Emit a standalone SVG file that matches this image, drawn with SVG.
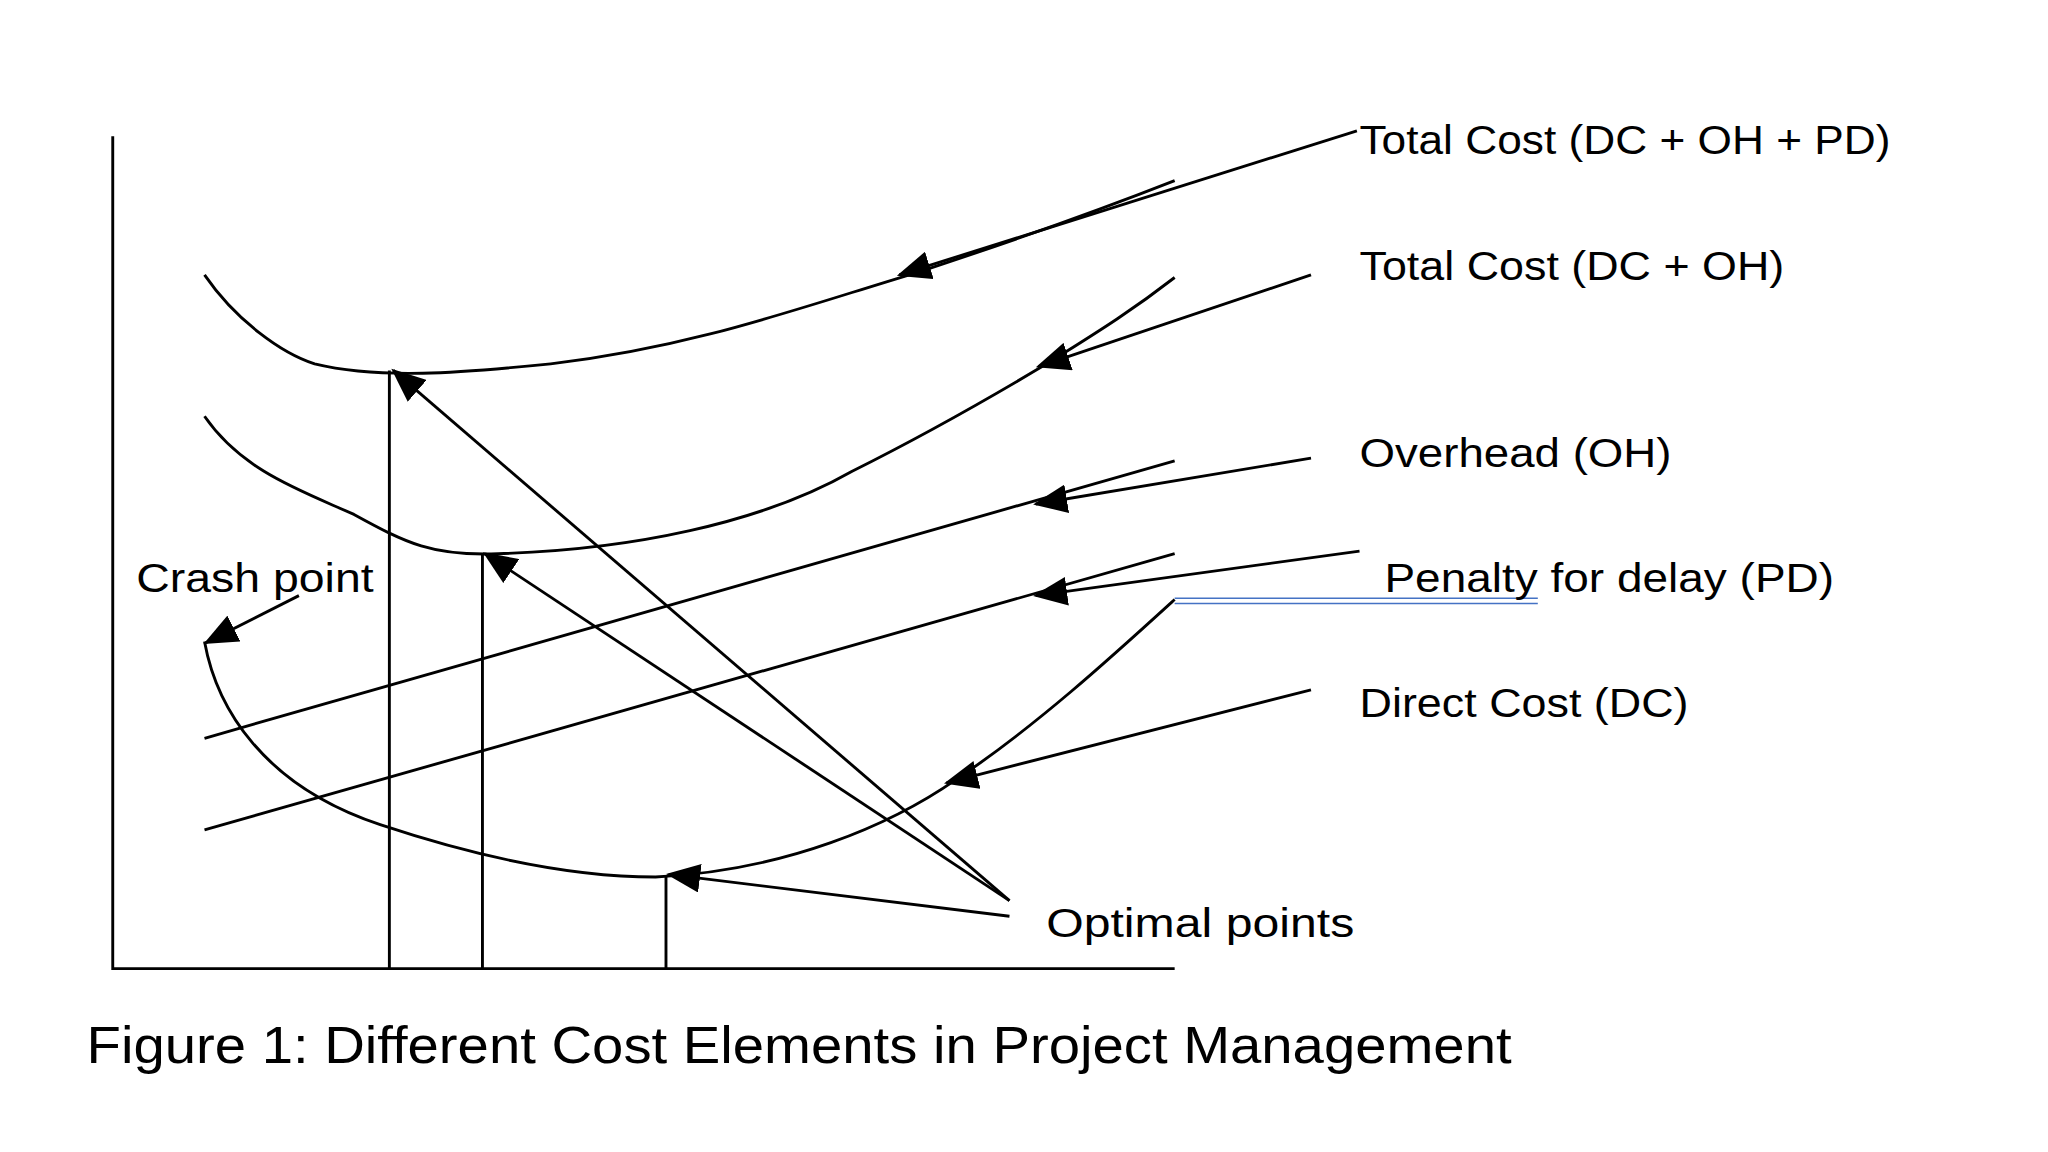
<svg xmlns="http://www.w3.org/2000/svg" width="2048" height="1152" viewBox="0 0 2048 1152">
<style>
.l{fill:none;stroke:#000;stroke-width:2.2}
.a{fill:none;stroke:#000;stroke-width:2.2;marker-end:url(#ah)}
text{font-family:"Liberation Sans",Arial,sans-serif;font-size:31px;fill:#000}
</style>
<defs><marker id="ah" markerUnits="userSpaceOnUse" markerWidth="26" markerHeight="22" refX="24" refY="11" orient="auto"><path d="M0,0 L26,11 L0,22 Z" fill="#000"/></marker></defs>
<rect width="2048" height="1152" fill="#fff"/>
<g transform="scale(1.311 1.309)">
<g id="axes"><path class="l" d="M86,104 V740 H896"/></g>
<g id="curves">
<path id="tc-pd" class="l" d="M156,210 C180,245 215,270 240,278 C290,290 350,285 420,278 C530,265 610,235 700,208 C770,185 840,160 896,138"/>
<path id="tc" class="l" d="M156,318 C185,360 230,375 270,393 C310,415 330,425 380,423 C480,420 580,400 650,360 C720,325 770,295 800,277 C830,258 860,240 896,212"/>
<path id="oh" class="l" d="M156,564 L896,352"/>
<path id="pd" class="l" d="M156,634 L896,423"/>
<path id="dc" class="l" d="M156,490 C165,540 200,600 290,630 C380,660 450,670 500,670 C600,665 680,630 730,595 C790,555 850,500 896,458"/>
<path id="vl" class="l" d="M297,283 V740 M368,423 V740 M508,670 V740"/>
<path d="M896,457 H1173 M896,461 H1173" fill="none" stroke="#4472c4" stroke-width="1.2"/>
</g>
<g id="connectors">
<path class="a" d="M1035,100 L686,210"/>
<path class="a" d="M1000,210 L792,280"/>
<path class="a" d="M1000,350 L790,385"/>
<path class="a" d="M1037,421 L790,455"/>
<path class="a" d="M1000,527 L722,598"/>
<path class="a" d="M228,455 L157,491"/>
<path class="a" d="M770,688 L300,283"/>
<path class="a" d="M770,688 L370,423"/>
<path class="a" d="M770,700 L510,668"/>
</g>
<g id="labels">
<text x="1037" y="118" textLength="405" lengthAdjust="spacingAndGlyphs">Total Cost (DC + OH + PD)</text>
<text x="1037" y="214" textLength="324" lengthAdjust="spacingAndGlyphs">Total Cost (DC + OH)</text>
<text x="1037" y="357" textLength="238" lengthAdjust="spacingAndGlyphs">Overhead (OH)</text>
<text x="1056" y="452" textLength="343" lengthAdjust="spacingAndGlyphs">Penalty for delay (PD)</text>
<text x="1037" y="548" textLength="251" lengthAdjust="spacingAndGlyphs">Direct Cost (DC)</text>
<text x="104" y="452" textLength="181" lengthAdjust="spacingAndGlyphs">Crash point</text>
<text x="798" y="716" textLength="235" lengthAdjust="spacingAndGlyphs">Optimal points</text>
<text x="66" y="812" style="font-size:40px" textLength="1087" lengthAdjust="spacingAndGlyphs">Figure 1: Different Cost Elements in Project Management</text>
</g>
</g>
</svg>
